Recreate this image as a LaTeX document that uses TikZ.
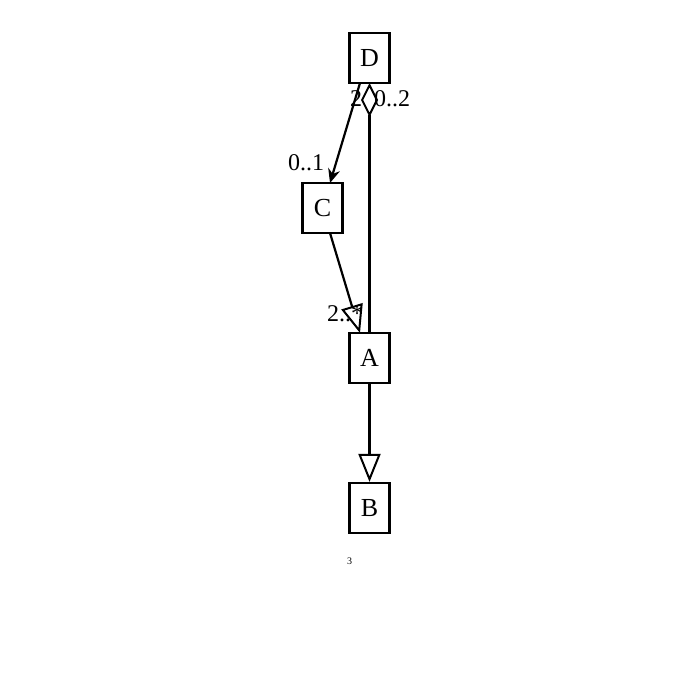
\documentclass[tikz,border=0pt]{standalone}
\usepackage{fontspec}
\setmainfont{Liberation Serif}
\usetikzlibrary{arrows.meta}
\begin{document}
\begin{tikzpicture}[x=1pt,y=-1pt,
  cls/.style={draw,line width=2.2pt,minimum width=40pt,minimum height=50pt,inner sep=0pt,font=\fontsize{26}{28}\selectfont},
  lab/.style={font=\fontsize{24}{26}\selectfont,inner sep=0pt},
  conn/.style={line width=2.2pt},
  gen/.style={-{Triangle[open,length=28pt,width=22pt,line width=2pt]}},
  comp/.style={{Diamond[open,length=34pt,width=17pt,line width=2pt]}-}]
\useasboundingbox (0,0) rectangle (700,675);
\node[cls] (D) at (369.5,58) {D};
\node[cls] (C) at (322.5,208) {C};
\node[cls] (A) at (369.5,358) {A};
\node[cls] (B) at (369.5,508) {B};
\coordinate (Db) at (369.5,83);
\coordinate (At) at (369.5,333);
\coordinate (D1) at (360,83);
\coordinate (C1) at (330,183);
\coordinate (C2) at (330,233);
\coordinate (A1) at (360,333);
\draw[conn,comp] (Db) -- (At);
\draw[conn,-{Stealth[length=14pt,width=12pt]}] (D1) -- (C1);
\draw[conn,gen] (C2) -- (A1);
\draw[conn,gen] (A) -- (B);
\node[lab] (l1) at (356,99) {2};
\node[lab] (l2) at (392,99) {0..2};
\node[lab] (l3) at (306,163) {0..1};
\node[lab] (l4) at (345,314) {2..*};
\node[font=\fontsize{10}{12}\selectfont] (pg) at (349.5,561) {3};
\end{tikzpicture}
\end{document}
